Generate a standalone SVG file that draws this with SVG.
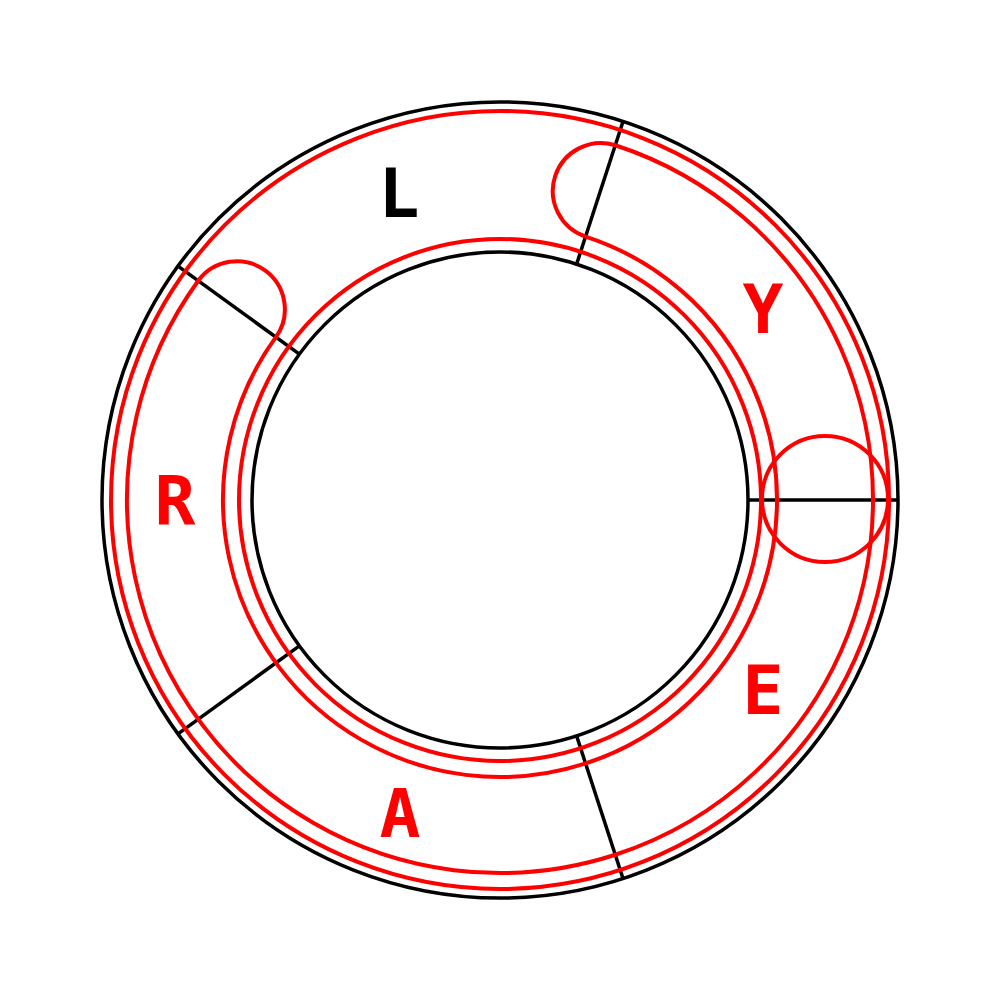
<svg xmlns="http://www.w3.org/2000/svg" width="1000" height="1000" viewBox="0 0 1000 1000">
  <style>
    .blk { fill: none; stroke: #000000; stroke-width: 3.5; }
    .red { fill: none; stroke: #ff0000; stroke-width: 4; stroke-linejoin: round; }
    .lbl { font-family: "DejaVu Sans Mono", "Liberation Mono", monospace; font-weight: bold; font-size: 68px; text-anchor: middle; }
  </style>
  <rect width="1000" height="1000" fill="#ffffff"/>
  <g id="ring">
    <circle class="blk" cx="500" cy="500" r="398"/>
    <circle class="blk" cx="500" cy="500" r="248"/>
  </g>
  <g id="connectors">
    <line class="blk" x1="748" y1="500" x2="898" y2="500"/>
    <line class="blk" x1="576.6" y1="735.9" x2="623.0" y2="878.5"/>
    <line class="blk" x1="299.4" y1="645.8" x2="178.0" y2="733.9"/>
    <line class="blk" x1="299.4" y1="354.2" x2="178.0" y2="266.1"/>
    <line class="blk" x1="576.6" y1="264.1" x2="623.0" y2="121.5"/>
  </g>
  <g id="red-paths">
    <circle class="red" cx="500" cy="500" r="389"/>
    <circle class="red" cx="500" cy="500" r="261"/>
    <path class="red" d="M 615.26 145.26 A 373 373 0 1 1 198.24 280.75 A 48 48 0 0 1 275.90 337.18 A 277 277 0 1 0 585.60 236.56 A 48 48 0 0 1 615.26 145.26 Z"/>
    <circle class="red" cx="825" cy="499" r="63"/>
  </g>
  <g id="node-L"><text class="lbl" x="399" y="217" fill="#000000">L</text></g>
  <g id="node-Y"><text class="lbl" x="763" y="333" fill="#ff0000">Y</text></g>
  <g id="node-E"><text class="lbl" x="763" y="714" fill="#ff0000">E</text></g>
  <g id="node-A"><text class="lbl" x="400" y="837" fill="#ff0000">A</text></g>
  <g id="node-R"><text class="lbl" x="175" y="525" fill="#ff0000">R</text></g>
</svg>
